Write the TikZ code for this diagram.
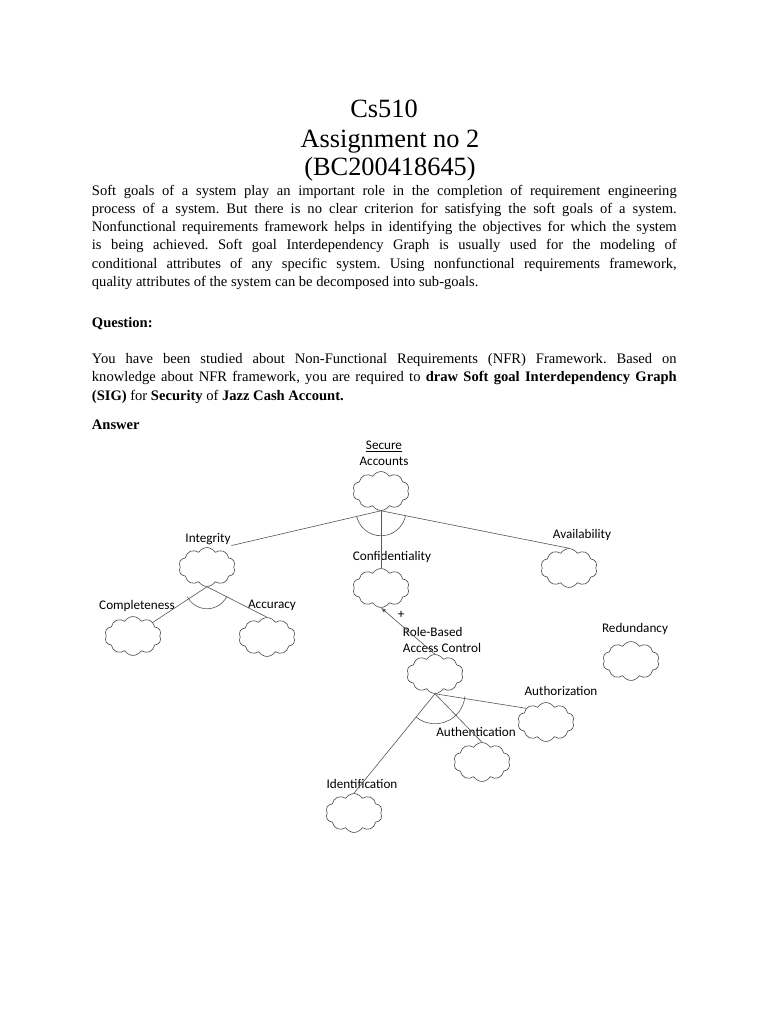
\documentclass[tikz,border=0pt]{standalone}
\usepackage{fontspec}
\setmainfont{Liberation Serif}
\newfontfamily\calib{Carlito}
\usetikzlibrary{arrows.meta,positioning,calc,shapes.symbols}
\frenchspacing
\tikzset{
  goal/.style={cloud,cloud puffs=10,cloud puff arc=120,aspect=1.45,draw=black!70,
    line width=0.5pt,minimum width=45pt,minimum height=31pt,inner sep=0pt},
  lab/.style={font=\calib\fontsize{10.5}{12.5}\selectfont,inner sep=0.5pt,text=black},
  conn/.style={draw=black!65,line width=0.5pt},
  contrib/.style={conn,-{Latex[length=4pt,width=3pt]}},
  andarc/.style={draw=black!65,line width=0.5pt},
  para/.style={anchor=base west,inner sep=0pt,text width=466pt,align=justify,
    font=\fontsize{11.6}{14.6}\selectfont},
  ttl/.style={anchor=base,inner sep=0pt,font=\fontsize{21}{24}\selectfont},
  hd/.style={anchor=base west,inner sep=0pt,font=\bfseries\fontsize{11.6}{14.6}\selectfont},
}

\begin{document}
\begin{tikzpicture}[x=0.796875pt,y=0.796875pt]
  \useasboundingbox (0,0) rectangle (768,-1024);
  % heading and text
  \node[ttl] (t1) at (384,-117) {Cs510};
  \node[ttl] (t2) at (390,-147) {Assignment no 2};
  \node[ttl] (t3) at (390,-175) {(BC200418645)};
  \node[para] (p1) at (91.7,-195) {%
    Soft goals of a system play an important role in the completion of requirement engineering\linebreak
    process of a system. But there is no clear criterion for satisfying the soft goals of a system.\linebreak
    Nonfunctional requirements framework helps in identifying the objectives for which the system\linebreak
    is being achieved. Soft goal Interdependency Graph is usually used for the modeling of\linebreak
    conditional attributes of any specific system. Using nonfunctional requirements framework,\linebreak
    quality attributes of the system can be decomposed into sub-goals.};
  \node[hd] (q) at (91.7,-327) {Question:};
  \node[para] (p2) at (91.7,-363.5) {%
    You have been studied about Non-Functional Requirements (NFR) Framework. Based on\linebreak
    knowledge about NFR framework, you are required to \textbf{draw Soft goal Interdependency Graph}\linebreak
    \textbf{(SIG)} for \textbf{Security} of \textbf{Jazz Cash Account.}};
  \node[hd] (ans) at (91.7,-429.5) {Answer};

  % soft goals
  \node[goal] (sec) at (381,-491) {};
  \node[goal] (integ) at (207,-567) {};
  \node[goal] (conf) at (381,-588) {};
  \node[goal] (avail) at (569,-568) {};
  \node[goal] (compl) at (133,-636) {};
  \node[goal] (accu) at (267,-637) {};
  \node[goal] (rbac) at (435,-674) {};
  \node[goal] (redun) at (631,-661) {};
  \node[goal] (authz) at (546,-722) {};
  \node[goal] (authn) at (482,-762) {};
  \node[goal] (ident) at (354,-813) {};

  \node[lab,align=center] (l-sec) at (384,-453) {\underline{Secure}\\Accounts};
  \node[lab] (l-integ) at (208,-539) {Integrity};
  \node[lab] (l-conf) at (392,-557) {Confidentiality};
  \node[lab] (l-avail) at (582,-535) {Availability};
  \node[lab] (l-compl) at (137,-606) {Completeness};
  \node[lab] (l-accu) at (272,-605) {Accuracy};
  \node[lab,align=left] (l-rbac) at (442,-640) {Role-Based\\Access Control};
  \node[lab] (l-redun) at (635,-629) {Redundancy};
  \node[lab] (l-authz) at (561,-691) {Authorization};
  \node[lab] (l-authn) at (476,-732) {Authentication};
  \node[lab] (l-ident) at (362,-784) {Identification};

  % decompositions
  \draw[conn] (sec.south) -- (l-integ.south east);
  \draw[conn] (sec.south) -- (conf.north);
  \draw[conn] (sec.south) -- (avail.north);
  \draw[andarc] (sec.south) ++(194:25) arc[start angle=194,end angle=348,radius=25];

  \draw[conn] (integ.south) -- (compl.north east);
  \draw[conn] (integ.south) -- (accu.north);
  \draw[andarc] (integ.south) ++(207:22) arc[start angle=207,end angle=333,radius=22];

  \draw[contrib] (rbac.north) -- node[lab,pos=0.75,above right=0pt and 2pt] (plus) {+} (conf.south);

  \draw[conn] (rbac.south) -- (authz.north west);
  \draw[conn] (rbac.south) -- (authn.north);
  \draw[conn] (rbac.south) -- (ident.north);
  \draw[andarc] (rbac.south) ++(231:30) arc[start angle=231,end angle=355,radius=30];
\end{tikzpicture}
\end{document}
